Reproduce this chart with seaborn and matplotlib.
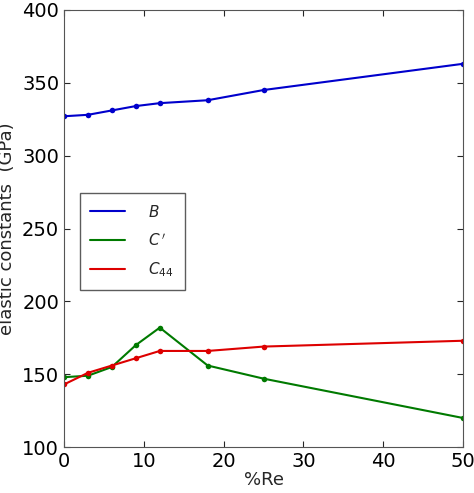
import matplotlib
matplotlib.use("Agg")
import matplotlib.pyplot as plt
import seaborn as sns
import pandas as pd

re_pct = [0, 3, 6, 9, 12, 18, 25, 50]
b_vals = [327, 328, 331, 334, 336, 338, 345, 363]
cp_vals = [148, 149, 155, 170, 182, 156, 147, 120]
c44_vals = [143, 151, 156, 161, 166, 166, 169, 173]

df = pd.DataFrame({
    "re": re_pct * 3,
    "val": b_vals + cp_vals + c44_vals,
    "series": ["$B$"] * 8 + ["$C\\,'$"] * 8 + ["$C_{44}$"] * 8,
})

sns.set_style("white")
plt.rcParams['font.family'] = ['DejaVu Sans']
fig, ax = plt.subplots(figsize=(4.74, 4.93), dpi=100)
fig.subplots_adjust(left=0.135, right=0.977, top=0.98, bottom=0.093)

sns.lineplot(data=df, x="re", y="val", hue="series",
             palette=["#0000cc", "#007a00", "#dd0000"],
             marker="o", markersize=4, markeredgewidth=0, linewidth=1.5, ax=ax)

ax.set_xlim(0, 50)
ax.set_ylim(100, 400)
ax.set_xlabel("%Re", fontsize=13, labelpad=0)
ax.set_ylabel("elastic constants  (GPa)", fontsize=13)
ax.tick_params(labelsize=14, labelcolor="black", direction="in", length=4,
               left=True, bottom=True, right=True, top=True)
for s in ax.spines.values():
    s.set_color("#555555")
leg = ax.legend(loc="center left", bbox_to_anchor=(0.02, 0.47), fontsize=11,
                fancybox=False, handlelength=2.3, borderpad=0.7, labelspacing=0.8, handletextpad=1.5)
for h in leg.get_lines():
    h.set_marker("")
leg.get_frame().set_edgecolor("#333333")
fig.savefig("out.png")
